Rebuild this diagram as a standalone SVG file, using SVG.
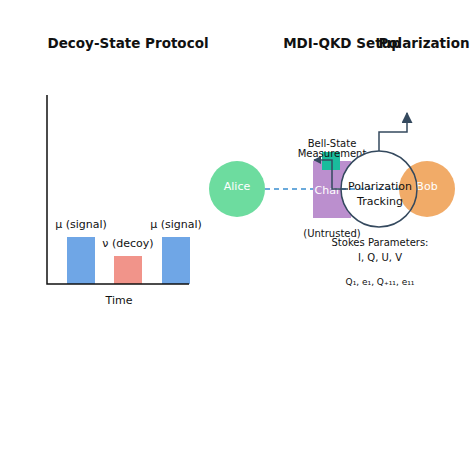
<svg xmlns="http://www.w3.org/2000/svg" width="474" height="474" viewBox="0 0 474 474">
<defs>
<style>
text{font-family:"DejaVu Sans","Liberation Sans",sans-serif;text-anchor:middle}
.title{font-size:13.5px;font-weight:bold;fill:#111}
.lbl{font-size:11px;fill:#111}
.sm{font-size:10px;fill:#111}
.wt{font-size:11px;fill:#fff}
.arr{fill:none;stroke:#34495e;stroke-width:1.5}
</style>
<marker id="ah" viewBox="0 0 10 10" refX="9" refY="5" markerWidth="8" markerHeight="8" markerUnits="userSpaceOnUse" orient="auto">
<path d="M0,0 L10,5 L0,10 z" fill="#34495e"/>
</marker>
<marker id="ah2" viewBox="0 0 10 10" refX="9" refY="5" markerWidth="11" markerHeight="11" markerUnits="userSpaceOnUse" orient="auto">
<path d="M0,0 L10,5 L0,10 z" fill="#34495e"/>
</marker>
</defs>
<rect width="474" height="474" fill="#fff"/>
<text class="title" x="128" y="48">Decoy-State Protocol</text>
<text class="title" x="342" y="48">MDI-QKD Setup</text>
<text class="title" x="424" y="48">Polarization</text>

<g id="chart">
<rect x="67" y="237" width="28" height="47" fill="#6fa6e6"/>
<rect x="114" y="256" width="28" height="28" fill="#f1948a"/>
<rect x="162" y="237" width="28" height="47" fill="#6fa6e6"/>
<path d="M47,95 V284 H189" fill="none" stroke="#111" stroke-width="1.5"/>
<text class="lbl" x="81" y="228">μ (signal)</text>
<text class="lbl" x="128" y="247">ν (decoy)</text>
<text class="lbl" x="176" y="228">μ (signal)</text>
<text class="lbl" x="119" y="304">Time</text>
</g>

<g id="connectors">
<line x1="265" y1="189" x2="400" y2="189" stroke="#3a8fd0" stroke-width="1.5" stroke-dasharray="5,4"/>
</g>

<g id="alice">
<circle cx="237" cy="189" r="28" fill="#6ddc9f"/>
<text class="wt" x="237" y="190">Alice</text>
</g>

<g id="charlie">
<rect x="313" y="161" width="38" height="57" fill="#bb8fce"/>
<rect x="322" y="152" width="18" height="18" fill="#1abc9c"/>
<text class="wt" x="334" y="194">Charlie</text>
<text class="sm" x="332" y="147">Bell-State</text>
<text class="sm" x="332" y="157">Measurement</text>
<text class="sm" x="332" y="237">(Untrusted)</text>
</g>

<g id="tracking">
<circle cx="379" cy="189" r="38" fill="#fff"/>
</g>

<g id="bob">
<circle cx="427" cy="189" r="28" fill="#f0a660" fill-opacity="0.95"/>
<text class="wt" x="427" y="190">Bob</text>
</g>

<g id="tracking-top">
<line x1="341" y1="189" x2="400" y2="189" stroke="#3a8fd0" stroke-width="1.5" stroke-dasharray="5,4"/>
<circle cx="379" cy="189" r="38" fill="none" stroke="#34495e" stroke-width="1.5"/>
<path class="arr" d="M348,189 H332 V160 H314" marker-end="url(#ah)"/>
<path class="arr" d="M379,151 V132 H407 V113" marker-end="url(#ah2)"/>
<text class="lbl" x="380" y="190">Polarization</text>
<text class="lbl" x="380" y="205">Tracking</text>
<text class="sm" x="380" y="246">Stokes Parameters:</text>
<text class="sm" x="380" y="261">I, Q, U, V</text>
<text class="sm" x="380" y="285" style="font-size:9px">Q₁, e₁, Q₊₁₁, e₁₁</text>
</g>
</svg>
